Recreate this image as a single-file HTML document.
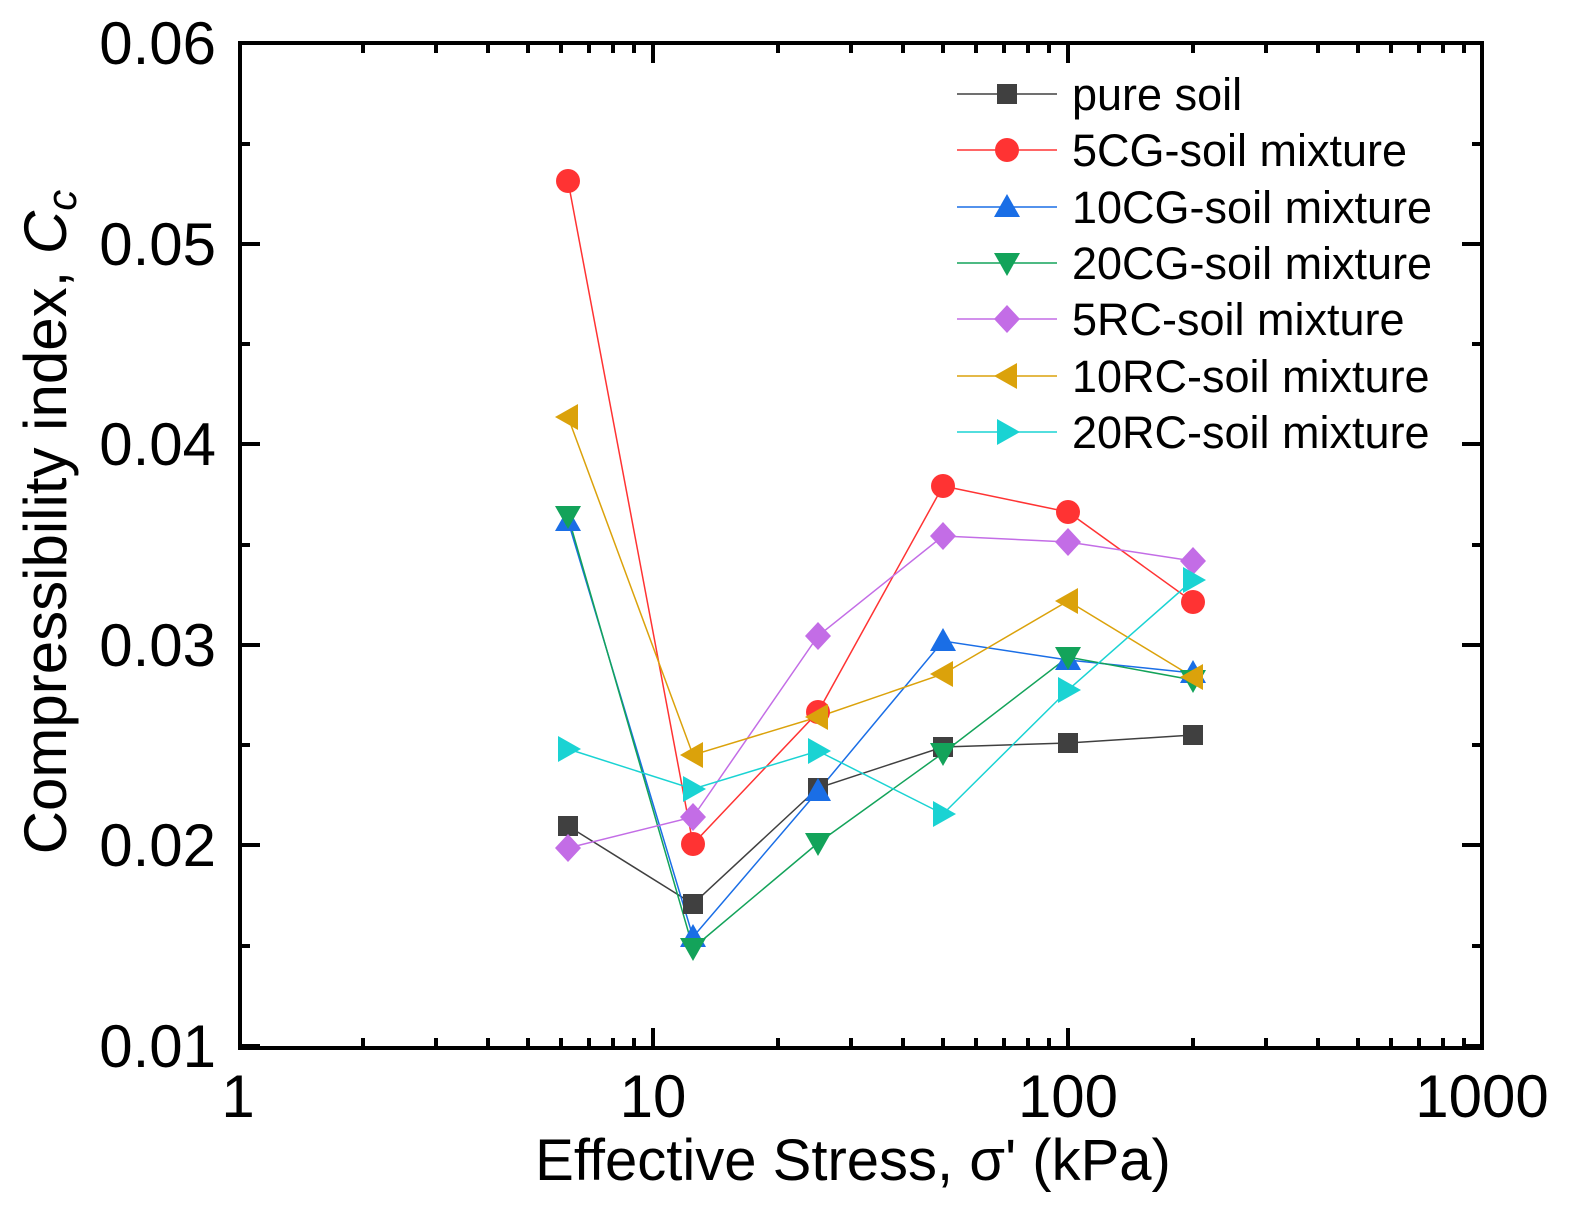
<!DOCTYPE html>
<html><head><meta charset="utf-8"><style>html,body{margin:0;padding:0;background:#fff}svg{display:block}</style></head><body>
<svg width="1575" height="1210" xmlns="http://www.w3.org/2000/svg" font-family="Liberation Sans, sans-serif">
<g stroke="#000" stroke-width="4">
<path d="M240 1046h20M240 845h20M240 645h20M240 444h20M240 244h20M240 43h20
M240 946h10M240 745h10M240 545h10M240 344h10M240 144h10
M1482 1046h-20M1482 845h-20M1482 645h-20M1482 444h-20M1482 244h-20M1482 43h-20
M1482 946h-10M1482 745h-10M1482 545h-10M1482 344h-10M1482 144h-10"/>
<path d="M653 1048v-20M1068 1048v-20M653 43v20M1068 43v20
M363 1048v-10M436 1048v-10M488 1048v-10M528 1048v-10M561 1048v-10M589 1048v-10M613 1048v-10M634 1048v-10
M778 1048v-10M851 1048v-10M903 1048v-10M943 1048v-10M976 1048v-10M1004 1048v-10M1028 1048v-10M1049 1048v-10
M1193 1048v-10M1266 1048v-10M1318 1048v-10M1358 1048v-10M1391 1048v-10M1419 1048v-10M1443 1048v-10M1464 1048v-10
M363 43v10M436 43v10M488 43v10M528 43v10M561 43v10M589 43v10M613 43v10M634 43v10
M778 43v10M851 43v10M903 43v10M943 43v10M976 43v10M1004 43v10M1028 43v10M1049 43v10
M1193 43v10M1266 43v10M1318 43v10M1358 43v10M1391 43v10M1419 43v10M1443 43v10M1464 43v10"/>
</g>
<rect x="240" y="43" width="1242" height="1005" fill="none" stroke="#000" stroke-width="4"/>
<g font-size="60" text-anchor="end" fill="#000">
<text x="216" y="1067">0.01</text><text x="216" y="866">0.02</text><text x="216" y="666">0.03</text><text x="216" y="465">0.04</text><text x="216" y="265">0.05</text><text x="216" y="64">0.06</text>
</g>
<g font-size="60" text-anchor="middle">
<text x="238" y="1117">1</text><text x="653" y="1117">10</text><text x="1068" y="1117">100</text><text x="1482" y="1117">1000</text>
</g>
<text x="853" y="1180" font-size="58" text-anchor="middle">Effective Stress, σ' (kPa)</text>
<text transform="translate(66,522) rotate(-90)" font-size="60" text-anchor="middle">Compressibility index, <tspan font-style="italic">C</tspan><tspan font-style="italic" font-size="42" dy="10">c</tspan></text>
<defs>
<rect id="sq" x="-10" y="-10" width="20" height="20"/>
<circle id="ci" r="12"/>
<path id="tu" d="M0 -13L13 10H-13Z"/>
<path id="td" d="M0 13L13 -10H-13Z"/>
<path id="di" d="M0 -14L13 0L0 14L-13 0Z"/>
<path id="tl" d="M-13 0L10 -13V13Z"/>
<path id="tr" d="M13 0L-10 -13V13Z"/>
</defs>
<g fill="none" stroke-width="1.5">
<polyline stroke="#404040" points="568,826 693,904 818,788 943,747 1068,743 1193,735"/>
<polyline stroke="#ff3333" points="568,181 693,844 818,712 943,486 1068,512 1193,602"/>
<polyline stroke="#1a6ee6" points="568,521 693,937 818,791 943,641 1068,660 1193,673"/>
<polyline stroke="#13a35a" points="568,516 693,948 818,843 943,753 1068,657 1193,680"/>
<polyline stroke="#c36de6" points="568,848 693,817 818,636 943,536 1068,542 1193,561"/>
<polyline stroke="#dba20b" points="568,417 693,755 818,717 943,674 1068,601 1193,677"/>
<polyline stroke="#1ad3d3" points="568,749 693,789 818,751 943,814 1068,690 1193,580"/>
</g>
<g fill="#404040"><use href="#sq" x="568" y="826"/><use href="#sq" x="693" y="904"/><use href="#sq" x="818" y="788"/><use href="#sq" x="943" y="747"/><use href="#sq" x="1068" y="743"/><use href="#sq" x="1193" y="735"/></g>
<g fill="#ff3333"><use href="#ci" x="568" y="181"/><use href="#ci" x="693" y="844"/><use href="#ci" x="818" y="712"/><use href="#ci" x="943" y="486"/><use href="#ci" x="1068" y="512"/><use href="#ci" x="1193" y="602"/></g>
<g fill="#1a6ee6"><use href="#tu" x="568" y="521"/><use href="#tu" x="693" y="937"/><use href="#tu" x="818" y="791"/><use href="#tu" x="943" y="641"/><use href="#tu" x="1068" y="660"/><use href="#tu" x="1193" y="673"/></g>
<g fill="#13a35a"><use href="#td" x="568" y="516"/><use href="#td" x="693" y="948"/><use href="#td" x="818" y="843"/><use href="#td" x="943" y="753"/><use href="#td" x="1068" y="657"/><use href="#td" x="1193" y="680"/></g>
<g fill="#c36de6"><use href="#di" x="568" y="848"/><use href="#di" x="693" y="817"/><use href="#di" x="818" y="636"/><use href="#di" x="943" y="536"/><use href="#di" x="1068" y="542"/><use href="#di" x="1193" y="561"/></g>
<g fill="#dba20b"><use href="#tl" x="568" y="417"/><use href="#tl" x="693" y="755"/><use href="#tl" x="818" y="717"/><use href="#tl" x="943" y="674"/><use href="#tl" x="1068" y="601"/><use href="#tl" x="1193" y="677"/></g>
<g fill="#1ad3d3"><use href="#tr" x="568" y="749"/><use href="#tr" x="693" y="789"/><use href="#tr" x="818" y="751"/><use href="#tr" x="943" y="814"/><use href="#tr" x="1068" y="690"/><use href="#tr" x="1193" y="580"/></g>
<g stroke-width="1.5">
<line x1="957" y1="94" x2="1057" y2="94" stroke="#404040"/>
<line x1="957" y1="150" x2="1057" y2="150" stroke="#ff3333"/>
<line x1="957" y1="207" x2="1057" y2="207" stroke="#1a6ee6"/>
<line x1="957" y1="263" x2="1057" y2="263" stroke="#13a35a"/>
<line x1="957" y1="319" x2="1057" y2="319" stroke="#c36de6"/>
<line x1="957" y1="376" x2="1057" y2="376" stroke="#dba20b"/>
<line x1="957" y1="432" x2="1057" y2="432" stroke="#1ad3d3"/>
</g>
<use href="#sq" x="1007" y="94" fill="#404040"/>
<use href="#ci" x="1007" y="150" fill="#ff3333"/>
<use href="#tu" x="1007" y="207" fill="#1a6ee6"/>
<use href="#td" x="1007" y="263" fill="#13a35a"/>
<use href="#di" x="1007" y="319" fill="#c36de6"/>
<use href="#tl" x="1007" y="376" fill="#dba20b"/>
<use href="#tr" x="1007" y="432" fill="#1ad3d3"/>
<g font-size="45">
<text x="1072" y="110">pure soil</text>
<text x="1072" y="166">5CG-soil mixture</text>
<text x="1072" y="223">10CG-soil mixture</text>
<text x="1072" y="279">20CG-soil mixture</text>
<text x="1072" y="335">5RC-soil mixture</text>
<text x="1072" y="392">10RC-soil mixture</text>
<text x="1072" y="448">20RC-soil mixture</text>
</g>
</svg>
</body></html>
